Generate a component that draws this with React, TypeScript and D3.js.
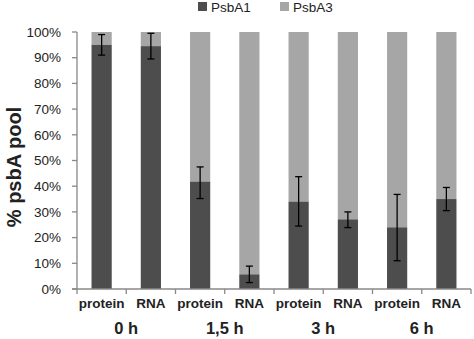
import React from "react";
import * as d3 from "d3";

const groups = ["0 h", "1,5 h", "3 h", "6 h"];
const types = ["protein", "RNA"];
const psbA1 = [95, 94.5, 41.8, 5.7, 34, 27.1, 24, 35];
const errLow = [91, 89.5, 35.2, 2.5, 24.5, 23.9, 11, 30.5];
const errHigh = [99, 99.5, 47.5, 8.9, 43.7, 30, 36.8, 39.5];
const yTicks = [0, 10, 20, 30, 40, 50, 60, 70, 80, 90, 100];

const DARK = "#4d4d4d";
const LIGHT = "#a6a6a6";

export default function App() {
  const W = 474, H = 339;
  const left = 77, right = 471, top = 32, bottom = 289;
  const cats = groups.flatMap((g) => types.map((t) => `${g}|${t}`));
  const x = d3.scaleBand().domain(cats).range([left, right]).paddingInner(0.59).paddingOuter(0.295);
  const xb = d3.scaleBand().domain(cats).range([left, right]);
  const y = d3.scaleLinear().domain([0, 100]).range([bottom, top]);
  const font = "'Liberation Sans', Arial, sans-serif";
  return (
    <svg width={W} height={H} style={{ position: "absolute", left: 0, top: 0, background: "#fff" }} fontFamily={font}>
      {/* legend */}
      <rect x={198} y={2} width={9} height={9} fill={DARK} />
      <text x={211} y={12} fontSize={13.5} fill="#222">PsbA1</text>
      <rect x={280} y={2} width={9} height={9} fill={LIGHT} />
      <text x={293} y={12} fontSize={13.5} fill="#222">PsbA3</text>

      {/* bars */}
      {cats.map((c, i) => (
        <g key={c}>
          <rect x={x(c)} y={y(100)} width={x.bandwidth()} height={y(psbA1[i]) - y(100)} fill={LIGHT} />
          <rect x={x(c)} y={y(psbA1[i])} width={x.bandwidth()} height={y(0) - y(psbA1[i])} fill={DARK} />
        </g>
      ))}
      {/* error bars */}
      {cats.map((c, i) => {
        const cx = (x(c) as number) + x.bandwidth() / 2;
        return (
          <g key={"e" + c} stroke="#000" strokeWidth={1.3}>
            <line x1={cx} x2={cx} y1={y(errHigh[i])} y2={y(errLow[i])} />
            <line x1={cx - 3.5} x2={cx + 3.5} y1={y(errHigh[i])} y2={y(errHigh[i])} />
            <line x1={cx - 3.5} x2={cx + 3.5} y1={y(errLow[i])} y2={y(errLow[i])} />
          </g>
        );
      })}

      {/* y axis */}
      <line x1={left} x2={left} y1={top} y2={bottom} stroke="#888" strokeWidth={1.3} />
      {yTicks.map((t) => (
        <g key={t}>
          <line x1={left - 5} x2={left} y1={y(t)} y2={y(t)} stroke="#888" strokeWidth={1.3} />
          <text x={61} y={y(t)} dy="0.35em" textAnchor="end" fontSize={13.5} fill="#222">{t}%</text>
        </g>
      ))}
      <text transform={`translate(21,167) rotate(-90)`} textAnchor="middle" fontSize={20} fontWeight="bold" fill="#222">% psbA pool</text>

      {/* x axis */}
      <line x1={left - 5} x2={right} y1={bottom} y2={bottom} stroke="#888" strokeWidth={1.3} />
      {cats.map((c) => (
        <line key={"t" + c} x1={(xb(c) as number) + xb.bandwidth()} x2={(xb(c) as number) + xb.bandwidth()} y1={bottom} y2={bottom + 5} stroke="#888" strokeWidth={1.3} />
      ))}
      <line x1={left} x2={left} y1={bottom} y2={bottom + 5} stroke="#888" strokeWidth={1.3} />
      {cats.map((c) => (
        <text key={"l" + c} x={(x(c) as number) + x.bandwidth() / 2} y={308} textAnchor="middle" fontSize={13.5} fontWeight="bold" fill="#222">{c.split("|")[1]}</text>
      ))}
      {groups.map((g, gi) => {
        const cx = ((xb(cats[gi * 2]) as number) + (xb(cats[gi * 2 + 1]) as number) + xb.bandwidth()) / 2;
        return (
          <text key={g} x={cx} y={334} textAnchor="middle" fontSize={16.5} fontWeight="bold" fill="#222">{g}</text>
        );
      })}
    </svg>
  );
}
